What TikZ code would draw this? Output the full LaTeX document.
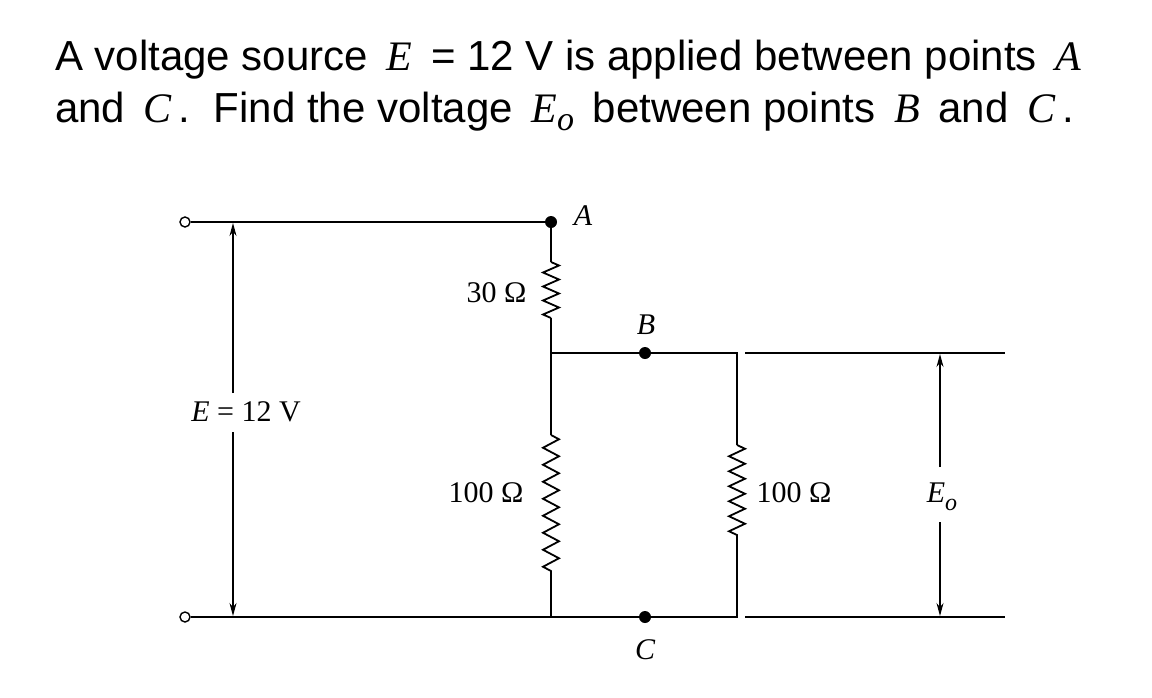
\documentclass[tikz,border=0pt]{standalone}
\usepackage{fontspec}
\setmainfont{Liberation Serif}
\newfontfamily\titlefont{Liberation Sans}
\newfontfamily\mi{Liberation Serif}
\newcommand{\vv}[1]{{\mi\itshape #1}}
\usetikzlibrary{decorations.pathmorphing,arrows.meta}
\begin{document}
\begin{tikzpicture}[x=1pt,y=-1pt,
  wire/.style={line width=1.8pt},
  thin/.style={line width=1.1pt},
  dot/.style={circle,fill=black,inner sep=0pt,minimum size=12pt},
  term/.style={circle,draw=black,line width=1.4pt,fill=white,inner sep=0pt,minimum size=10pt},
  lab/.style={font=\fontsize{30}{30}\selectfont},
  title/.style={font=\titlefont\fontsize{42}{42}\selectfont,anchor=base west,inner sep=0pt},
  res/.style={wire,decorate,decoration={zigzag,amplitude=8pt,segment length=#1}},
  dim/.style={thin,-{Stealth[length=13pt,width=7pt]}}]
\useasboundingbox (0,0) rectangle (1152,697);
\node[title] (t1) at (55,70) {A voltage source \,\vv{E}\, = 12 V is applied between points \,\vv{A}};
\node[title] (t2) at (55,122) {and \,\vv{C}\,.\ \ Find the voltage \,\vv{E}\raisebox{-8pt}{\fontsize{34}{34}\selectfont\vv{o}}\, between points \,\vv{B}\, and \,\vv{C}\,.};
% nodes
\node[term] (tl) at (185,222) {};
\node[term] (bl) at (185,617) {};
\node[dot] (A) at (551,222) {};
\coordinate (r1t) at (551,262); \coordinate (r1b) at (551,318);
\coordinate (J) at (551,353);
\coordinate (r2t) at (551,435); \coordinate (r2b) at (551,572);
\coordinate (Jb) at (551,617);
\node[dot] (B) at (645,353) {};
\node[dot] (C) at (645,617) {};
\coordinate (R) at (737,353); \coordinate (Rb) at (737,617);
\coordinate (r3t) at (737,445); \coordinate (r3b) at (737,537);
% wires
\draw[wire] (tl) -- (A);
\draw[wire] (A) -- (r1t);
\draw[res=14pt] (r1t) -- (r1b);
\draw[wire] (r1b) -- (J) -- (B) -- (R) -- (r3t);
\draw[res=15pt] (r3t) -- (r3b);
\draw[wire] (r3b) -- (Rb) -- (C) -- (Jb) -- (bl);
\draw[wire] (J) -- (r2t);
\draw[res=17pt] (r2t) -- (r2b);
\draw[wire] (r2b) -- (Jb);
% output lines
\coordinate (o1a) at (745,353); \coordinate (o1b) at (1005,353);
\coordinate (o2a) at (745,617); \coordinate (o2b) at (1005,617);
\draw[thin] (o1a) -- (o1b);
\draw[thin] (o2a) -- (o2b);
% labels
\node[lab] (lA) at (583,216) {\itshape A};
\node[lab] (lB) at (646,325) {\itshape B};
\node[lab] (lC) at (645,650) {\itshape C};
\node[lab,anchor=east] (l30) at (530,293) {30 Ω};
\node[lab,anchor=east] (l100a) at (527,493) {100 Ω};
\node[lab,anchor=west] (l100b) at (753,493) {100 Ω};
\node[lab] (lE) at (246,412) {\itshape E\upshape\ = 12 V};
\node[lab] (lEo) at (942,497) {\itshape E\raisebox{-8pt}{\fontsize{24}{24}\selectfont o}};
% arrows
\coordinate (et) at (233,223); \coordinate (eb) at (233,616);
\draw[dim] (233,393) -- (et);
\draw[dim] (233,432) -- (eb);
\coordinate (ot) at (940,354); \coordinate (ob) at (940,616);
\draw[dim] (940,467) -- (ot);
\draw[dim] (940,522) -- (ob);
\end{tikzpicture}
\end{document}
